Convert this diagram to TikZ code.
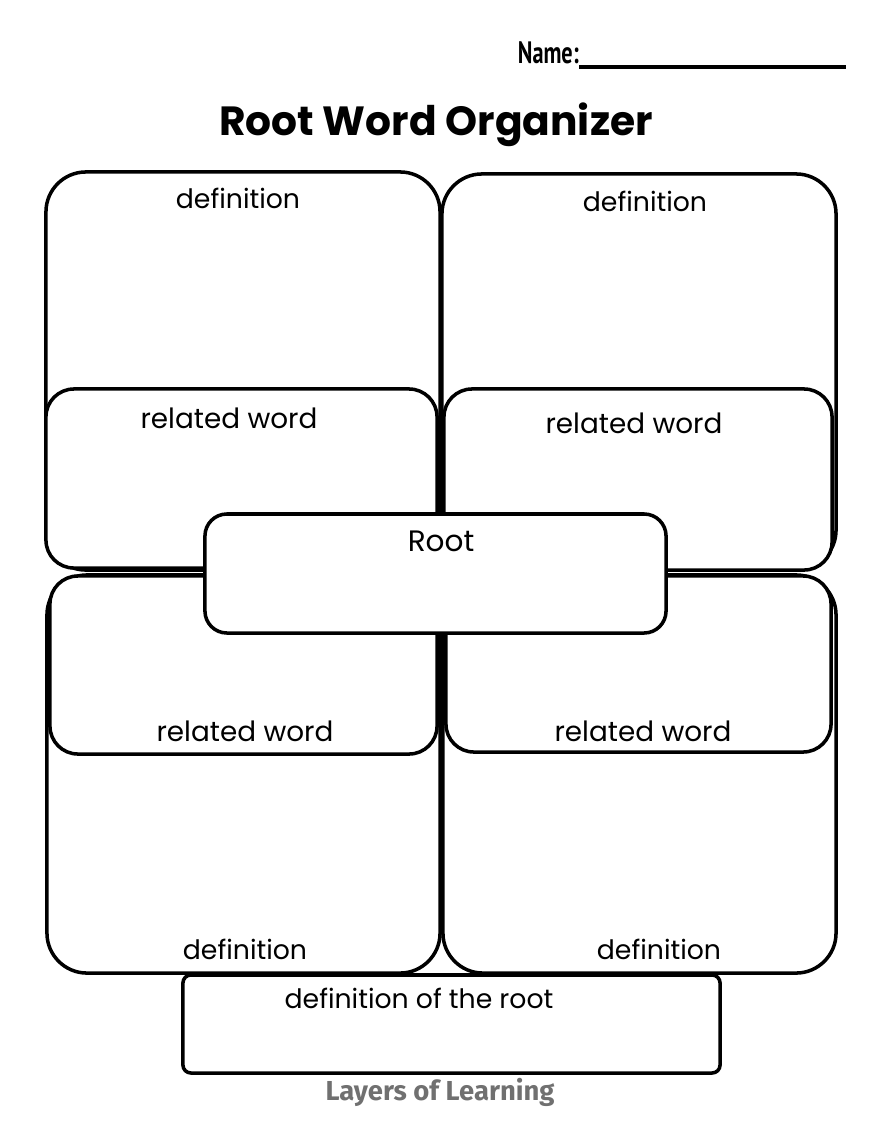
\documentclass[tikz,border=0pt]{standalone}
\usepackage{fontspec}
\setmainfont{Poppins}
\newfontfamily\namefont{PT Sans}
\newfontfamily\footfont{Fira Sans}
\usetikzlibrary{positioning}
\definecolor{rwGray}{HTML}{707070}
\tikzset{
  frame/.style={draw,line width=2.5pt,fill=white,inner sep=0pt,outer sep=0pt},
  bigbox/.style={frame,rounded corners=1cm},
  wordbox/.style={frame,rounded corners=0.7cm},
  rootbox/.style={frame,rounded corners=0.55cm},
  lbl/.style={font=\fontsize{19}{22}\selectfont,inner sep=0pt},
  wlbl/.style={font=\fontsize{19.8}{22}\selectfont,inner sep=0pt},
}
\begin{document}
\begin{tikzpicture}[x=0.025cm,y=-0.025cm]
\fill[white] (0,0) rectangle (880,1140);
\useasboundingbox (0,0) rectangle (880,1140);
% heading
\node[inner sep=0pt,anchor=east,font=\namefont\bfseries\fontsize{22}{24}\selectfont,xscale=0.72,transform shape] (name) at (579,53) {Name:};
\coordinate (lineEnd) at (846,67);
\draw[line width=2.4pt] (name.east |- lineEnd) -- (lineEnd);
\node[inner sep=0pt,font=\bfseries\fontsize{29}{32}\selectfont] (title) at (436,125) {Root Word Organizer};
% big boxes
\node[bigbox,minimum width=9.85cm,minimum height=9.95cm] (defTL) at (243,371) {};
\node[bigbox,minimum width=9.85cm,minimum height=9.9cm] (defTR) at (639,372) {};
\node[bigbox,minimum width=9.825cm,minimum height=9.95cm] (defBL) at (243.5,774) {};
\node[bigbox,minimum width=9.825cm,minimum height=9.95cm] (defBR) at (639.5,774) {};
% related word boxes
\node[wordbox,minimum width=9.775cm,minimum height=4.475cm] (relTL) at (241.5,478.5) {};
\node[wordbox,minimum width=9.7cm,minimum height=4.525cm] (relTR) at (638,479.5) {};
\node[wordbox,minimum width=9.675cm,minimum height=4.45cm] (relBL) at (243.5,665) {};
\node[wordbox,minimum width=9.625cm,minimum height=4.4cm] (relBR) at (638.5,664) {};
% root
\node[rootbox,minimum width=11.525cm,minimum height=2.975cm] (root) at (435.5,573.5) {};
\node[frame,rounded corners=0.2cm,minimum width=13.425cm,minimum height=2.45cm] (rootDef) at (451.5,1024) {};
% labels
\node[lbl] (tDefTL) at (238,198) {definition};
\node[lbl] (tDefTR) at (645,201) {definition};
\node[wlbl] (tRelTL) at (229,418) {related word};
\node[wlbl] (tRelTR) at (634,423) {related word};
\node[lbl,font=\fontsize{21}{24}\selectfont] (tRoot) at (441,541) {Root};
\node[wlbl] (tRelBL) at (245,731) {related word};
\node[wlbl] (tRelBR) at (643,731) {related word};
\node[lbl] (tDefBL) at (245,949) {definition};
\node[lbl] (tDefBR) at (659,949) {definition};
\node[lbl] (tRootDef) at (419,998) {definition of the root};
\node[inner sep=0pt,text=rwGray,font=\footfont\bfseries\fontsize{19.5}{22}\selectfont] (credit) at (440,1092) {Layers of Learning};
\end{tikzpicture}
\end{document}
